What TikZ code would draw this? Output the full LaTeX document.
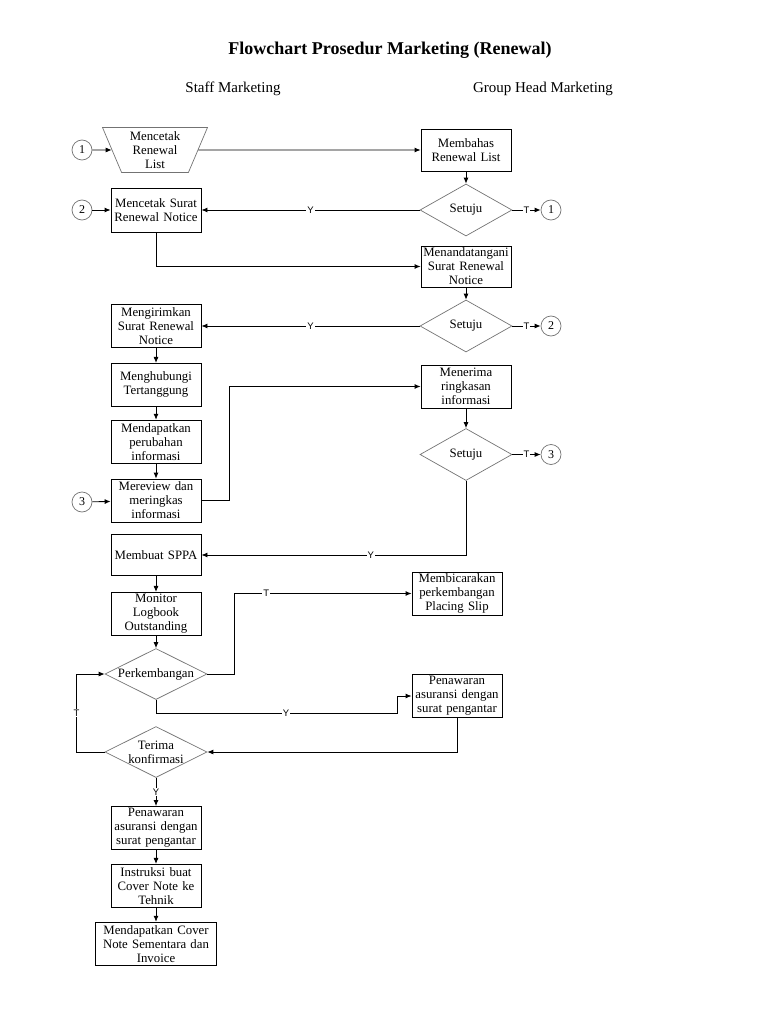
\documentclass[tikz,border=0pt]{standalone}
\usepackage{fontspec}
\setmainfont{Liberation Serif}
\newfontfamily\labfont{Liberation Sans}
\usetikzlibrary{arrows.meta, positioning, shapes.geometric}

\begin{document}
\begin{tikzpicture}[x=1pt, y=-1pt,
        box/.style={rectangle, draw=black, line width=0.85pt, fill=white,
                  text width=88pt, align=center, inner sep=1pt,
                  minimum height=43pt, font=\fontsize{12.8}{14}\selectfont},
        dec/.style={diamond, draw=black!55, line width=0.7pt, aspect=2,
                  inner xsep=-6pt, inner ysep=0pt, align=center,
                  minimum width=92pt, minimum height=52pt,
                  font=\fontsize{12.8}{14}\selectfont},
        trap/.style={trapezium, shape border rotate=180, draw=black!55, line width=0.7pt,
                  trapezium left angle=67, trapezium right angle=67,
                  text width=54pt, inner xsep=2pt, inner ysep=1pt, align=center,
                  minimum height=45pt, font=\fontsize{12.8}{14}\selectfont},
        conn/.style={circle, draw=black!55, line width=0.7pt, minimum size=20pt,
                  inner sep=0pt, font=\fontsize{12}{12}\selectfont},
        arr/.style={-{Latex[length=6pt,width=5pt]}, line width=0.85pt, black},
        lab/.style={fill=white, inner sep=1pt, font=\labfont\fontsize{9.5}{9.5}\selectfont},
        head/.style={font=\fontsize{15}{15}\selectfont},
        node distance=15pt]
      \useasboundingbox (0,0) rectangle (768,1024);
      \node[font=\bfseries\fontsize{18}{20}\selectfont] (title) at (390,50) {Flowchart Prosedur Marketing (Renewal)};
      \node[head] (hstaff) at (233,89) {Staff Marketing};
      \node[head] (hgroup) at (543,89) {Group Head Marketing};

      \node[trap] (lst) at (155,150) {Mencetak\\Renewal\\List};
      \node[box, minimum height=44pt] (cts) at (156,210) {Mencetak Surat\\Renewal Notice};
      \node[box] (kirim) at (156,326) {Mengirimkan\\Surat Renewal\\Notice};
      \node[box, below=of kirim] (hub) {Menghubungi\\Tertanggung};
      \node[box, below=13pt of hub] (dpt) {Mendapatkan\\perubahan\\informasi};
      \node[box, below=of dpt] (rev) {Mereview dan\\meringkas\\informasi};
      \node[box, minimum height=41pt] (sppa) at (156,555) {Membuat SPPA};
      \node[box, below=16pt of sppa] (mon) {Monitor\\Logbook\\Outstanding};
      \node[dec, minimum width=102pt, minimum height=51pt] (pkb) at (156,674) {Perkembangan};
      \node[dec, minimum width=102pt, minimum height=51pt] (tkf) at (156,752) {Terima\\konfirmasi};
      \node[box] (pnl) at (156,828) {Penawaran\\asuransi dengan\\surat pengantar};
      \node[box, below=14pt of pnl] (ins) {Instruksi buat\\Cover Note ke\\Tehnik};
      \node[box, text width=119pt, below=14pt of ins] (cov) {Mendapatkan Cover\\Note Sementara dan\\Invoice};

      \node[box, minimum height=42pt] (bhs) at (466,150) {Membahas\\Renewal List};
      \node[dec] (st1) at (466,210) {Setuju};
      \node[box, minimum height=41pt] (tdt) at (466,266.5) {Menandatangani\\Surat Renewal\\Notice};
      \node[dec] (st2) at (466,326) {Setuju};
      \node[box] (trm) at (466,386.5) {Menerima\\ringkasan\\informasi};
      \node[dec] (st3) at (466,454.5) {Setuju};
      \node[box] (bcr) at (457,593.5) {Membicarakan\\perkembangan\\Placing Slip};
      \node[box] (pnr) at (457,696) {Penawaran\\asuransi dengan\\surat pengantar};

      \node[conn] (c1) at (82,150) {1};
      \node[conn] (c2) at (82,210) {2};
      \node[conn] (c3) at (82,502) {3};
      \node[conn] (r1) at (551,210) {1};
      \node[conn] (r2) at (551,326) {2};
      \node[conn] (r3) at (551,454.5) {3};

      \draw[arr] (c1) -- (lst);
      \draw[arr] (lst.east) -- (bhs.west);
      \draw[arr] (bhs) -- (st1);
      \draw[arr] (st1) -- node[lab]{Y} (cts);
      \draw[arr] (st1) -- node[lab]{T} (r1);
      \draw[arr] (c2) -- (cts);
      \draw[arr] (cts.south) |- (tdt.west);
      \draw[arr] (tdt) -- (st2);
      \draw[arr] (st2) -- node[lab]{Y} (kirim);
      \draw[arr] (st2) -- node[lab]{T} (r2);
      \draw[arr] (kirim) -- (hub);
      \draw[arr] (hub) -- (dpt);
      \draw[arr] (dpt) -- (rev);
      \draw[arr] (c3) -- (rev);
      \draw[arr] (rev.east) -- ([xshift=28pt]rev.east) |- (trm.west);
      \draw[arr] (trm) -- (st3);
      \draw[arr] (st3) -- node[lab]{T} (r3);
      \draw[arr] (st3.south) |- node[lab, pos=0.68]{Y} (sppa.east);
      \draw[arr] (sppa) -- (mon);
      \draw[arr] (mon) -- (pkb);
      \draw[arr] (pkb.east) -- ([xshift=27pt]pkb.east) |- node[lab, pos=0.59]{T} (bcr.west);
      \draw[arr] (pkb.south) |- ([xshift=-14pt, yshift=-17pt]pnr.west) |- (pnr.west);
      \node[lab] (ylab) at (286,713) {Y};
      \draw[arr] (pnr.south) |- (tkf.east);
      \draw[arr] (tkf.west) -- ([xshift=-28pt]tkf.west) |- node[lab, pos=0.25]{T} (pkb.west);
      \draw[arr] (tkf) -- node[lab]{Y} (pnl);
      \draw[arr] (pnl) -- (ins);
      \draw[arr] (ins) -- (cov);
    \end{tikzpicture}
\end{document}
